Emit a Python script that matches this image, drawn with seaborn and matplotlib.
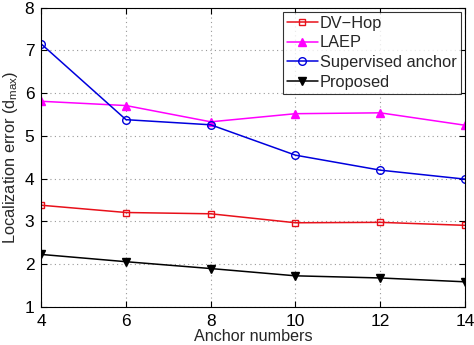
import matplotlib
matplotlib.use("Agg")
import matplotlib.pyplot as plt
import seaborn as sns
import pandas as pd

anchors = [4, 6, 8, 10, 12, 14]
dv_hop = [3.38, 3.21, 3.18, 2.97, 2.98, 2.91]
laep = [5.81, 5.71, 5.33, 5.52, 5.54, 5.25]
supervised = [7.15, 5.38, 5.26, 4.55, 4.20, 3.99]
proposed = [2.23, 2.06, 1.90, 1.73, 1.68, 1.59]

series = [
    ("DV\u2212Hop", dv_hop, "#e8101a", "s", "none", 4.5),
    ("LAEP", laep, "#ff00ff", "^", "#ff00ff", 5.5),
    ("Supervised anchor", supervised, "#0000dd", "o", "none", 5.5),
    ("Proposed", proposed, "black", "v", "black", 5.5),
]

sns.set_theme(style="white")
plt.rcParams["font.family"] = ["Liberation Sans", "DejaVu Sans"]
plt.rcParams["mathtext.fontset"] = "custom"
plt.rcParams["mathtext.rm"] = "Liberation Sans"
plt.rcParams["mathtext.it"] = "Liberation Sans"

fig, ax = plt.subplots(figsize=(4.74, 3.45), dpi=100)
fig.subplots_adjust(left=0.087, right=0.981, top=0.978, bottom=0.11)

for name, vals, color, marker, mfc, ms in series:
    df = pd.DataFrame({"x": anchors, "y": vals})
    sns.lineplot(data=df, x="x", y="y", ax=ax, color=color, marker=marker,
                 markersize=ms, markerfacecolor=mfc, markeredgecolor=color,
                 markeredgewidth=1.0, linewidth=1.1, label=name)

ax.set_xlim(4, 14)
ax.set_ylim(1, 8)
ax.set_xticks(anchors)
ax.set_yticks(range(1, 9))
ax.grid(True, linestyle=(0, (1, 3)), color="#999999", linewidth=0.8)
for s in ax.spines.values():
    s.set_color("black")
    s.set_linewidth(0.8)
ax.tick_params(direction="in", length=4, width=0.8, labelsize=12.5, colors="black",
               top=True, right=True, bottom=True, left=True, pad=5)
ax.set_xlabel("Anchor numbers", fontsize=11.6, labelpad=0)
ax.set_ylabel("Localization error (d$_{\\rm max}$)", fontsize=11.8, labelpad=3)

leg = ax.legend(loc="upper right", fontsize=11.8, frameon=True, fancybox=False,
                edgecolor="black", handlelength=1.85, handletextpad=0.15,
                borderpad=0.25, labelspacing=0.28, borderaxespad=0.25)
leg.get_frame().set_linewidth(0.8)

fig.savefig("out.png", dpi=100, facecolor="white")
